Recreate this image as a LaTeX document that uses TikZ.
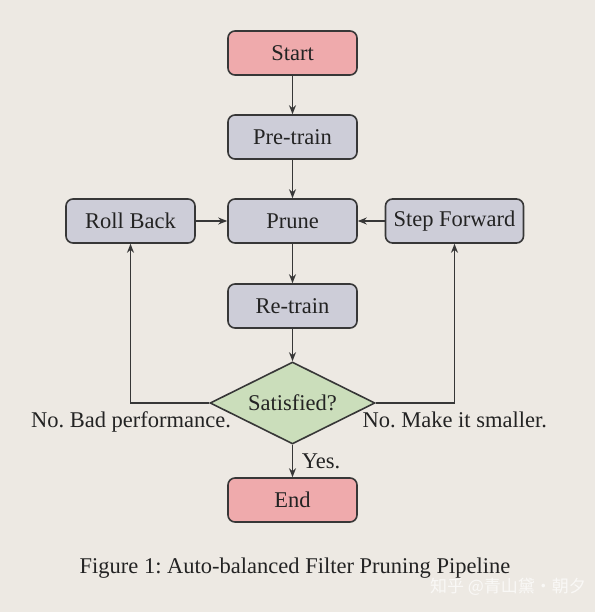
\documentclass[tikz,border=0pt]{standalone}
\usepackage{fontspec}
\setmainfont{Liberation Serif}
\newfontfamily\cjkfont{Noto Sans CJK SC}
\usetikzlibrary{shapes.geometric,arrows.meta}
\definecolor{bgcol}{RGB}{237,233,227}
\definecolor{pinkfill}{RGB}{239,170,172}
\definecolor{grayfill}{RGB}{205,205,216}
\definecolor{greenfill}{RGB}{203,222,187}
\definecolor{linecol}{RGB}{55,55,55}
\definecolor{textcol}{RGB}{35,35,35}
\tikzset{
  base/.style={draw=linecol, line width=1.6pt, rounded corners=7pt, minimum height=44pt, inner sep=0pt, text=textcol, font=\fontsize{22.5}{27}\selectfont},
  termbox/.style={base, fill=pinkfill, minimum width=129pt},
  procbox/.style={base, fill=grayfill, minimum width=129pt},
  decbox/.style={diamond, aspect=2, draw=linecol, line width=1.6pt, fill=greenfill, minimum width=165pt, minimum height=82pt, inner sep=0pt, text=textcol, font=\fontsize{22.5}{27}\selectfont},
  lbl/.style={text=textcol, inner sep=0pt, anchor=base, font=\fontsize{22.5}{27}\selectfont},
  arr/.style={draw=linecol, line width=1.7pt, -{Stealth[length=9pt,width=7pt]}}
}
\begin{document}
\frenchspacing
\begin{tikzpicture}[x=1pt,y=-1pt]
\fill[bgcol] (0,0) rectangle (595,612);
\useasboundingbox (0,0) rectangle (595,612);
\node[termbox] (start) at (292.5,53) {Start};
\node[procbox] (pre) at (292.5,137) {Pre-train};
\node[procbox] (prune) at (292.5,221) {Prune};
\node[procbox] (roll) at (130.5,221) {Roll Back};
\node[procbox, minimum width=138pt] (step) at (454.5,221) {Step Forward};
\node[procbox] (re) at (292.5,306) {Re-train};
\node[decbox] (sat) at (292.5,403) {Satisfied?};
\node[termbox] (end) at (292.5,500) {End};
\node[lbl] (bad) at (131,427) {No. Bad performance.};
\node[lbl] (small) at (454.7,427.3) {No. Make it smaller.};
\node[lbl] (yes) at (321,468.3) {Yes.};
\node[lbl] (cap) at (295,573.3) {Figure 1: Auto-balanced Filter Pruning Pipeline};
\node[inner sep=0pt, text=white, opacity=0.7, font=\cjkfont\fontsize{17}{20}\selectfont] (wm) at (508,587) {知乎 @青山黛·朝夕};
\draw[arr] (start) -- (pre);
\draw[arr] (pre) -- (prune);
\draw[arr] (prune) -- (re);
\draw[arr] (re) -- (sat);
\draw[arr] (sat) -- (end);
\draw[arr] (roll) -- (prune);
\draw[arr] (step) -- (prune);
\draw[arr] (sat.west) -| (roll.south);
\draw[arr] (sat.east) -| (step.south);
\end{tikzpicture}
\end{document}
